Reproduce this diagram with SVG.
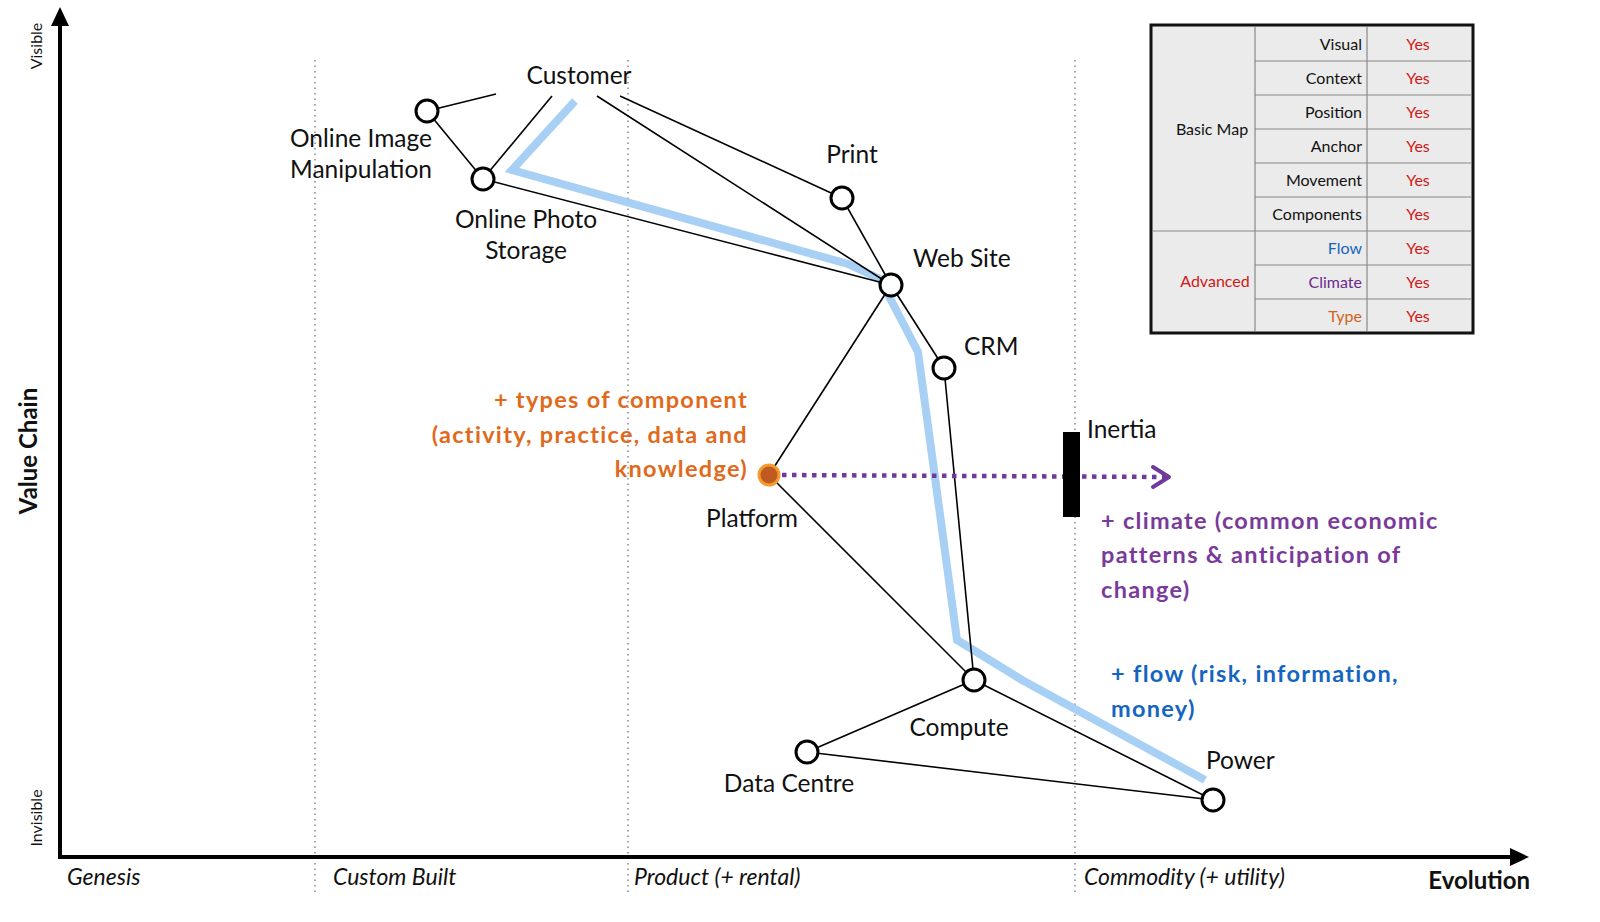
<svg xmlns="http://www.w3.org/2000/svg" width="1600" height="922" viewBox="0 0 1600 922">
<style>
.axis{stroke:#000;stroke-width:4;fill:none}
.grid{stroke:#888;stroke-width:1.5;stroke-dasharray:1.5 4;fill:none}
.ax{font-family:"Lato","Open Sans",sans-serif;font-size:23px;font-style:italic;fill:#111}
.lbl{font-family:"Lato","Open Sans",sans-serif;font-size:24.5px;fill:#111}
.small{font-family:"Lato","Open Sans",sans-serif;font-size:16px;fill:#111}
.link{stroke:#000;stroke-width:1.6;fill:none}
.node{fill:#fff;stroke:#000;stroke-width:3}
.flow{stroke:#a8d0f5;stroke-width:8;fill:none;stroke-linejoin:miter}
.ann{font-family:"Lato","Open Sans",sans-serif;font-size:23.5px;font-weight:bold;letter-spacing:1.3px}
.tb{font-family:"Lato","Open Sans",sans-serif;font-size:16px}
.yes{fill:#d01818;text-anchor:middle}
.tl{stroke:#888;stroke-width:1.2}
</style>
<rect width="1600" height="922" fill="#fff"/>

<g id="grid">
<line class="grid" x1="315" y1="60" x2="315" y2="892"/>
<line class="grid" x1="628" y1="60" x2="628" y2="892"/>
<line class="grid" x1="1075" y1="60" x2="1075" y2="892"/>
</g>

<g id="axes">
<line class="axis" x1="60" y1="859" x2="60" y2="24"/>
<path d="M51,26 L60,7 L69,26 z" fill="#000"/>
<line class="axis" x1="58" y1="857" x2="1512" y2="857"/>
<path d="M1510,848 L1529,857 L1510,866 z" fill="#000"/>
<text class="small" transform="translate(42,46) rotate(-90)" text-anchor="middle">Visible</text>
<text class="small" transform="translate(42,818) rotate(-90)" text-anchor="middle">Invisible</text>
<text transform="translate(37,451) rotate(-90)" text-anchor="middle" style="font-family:'Lato','Open Sans',sans-serif;font-size:24px;font-weight:bold;fill:#111">Value Chain</text>
<text class="ax" x="67" y="885">Genesis</text>
<text class="ax" x="333" y="885">Custom Built</text>
<text class="ax" x="634" y="885">Product (+ rental)</text>
<text class="ax" x="1084" y="885">Commodity (+ utility)</text>
<text x="1530" y="889" text-anchor="end" style="font-family:'Lato','Open Sans',sans-serif;font-size:24px;font-weight:bold;fill:#111">Evolution</text>
</g>

<g id="flow">
<polyline class="flow" points="575,101 512,170 848,264 880,279 918,352 957,640 1022,680 1205,780"/>
</g>

<g id="connectors">
<line class="link" x1="427" y1="111" x2="496" y2="94"/>
<line class="link" x1="483" y1="179" x2="552" y2="96"/>
<line class="link" x1="597" y1="96" x2="891" y2="285"/>
<line class="link" x1="620" y1="96" x2="842" y2="198"/>
<line class="link" x1="427" y1="111" x2="483" y2="179"/>
<line class="link" x1="483" y1="179" x2="891" y2="285"/>
<line class="link" x1="842" y1="198" x2="891" y2="285"/>
<line class="link" x1="891" y1="285" x2="944" y2="368"/>
<line class="link" x1="891" y1="285" x2="769" y2="475"/>
<line class="link" x1="944" y1="368" x2="974" y2="680"/>
<line class="link" x1="769" y1="475" x2="974" y2="680"/>
<line class="link" x1="974" y1="680" x2="807" y2="752"/>
<line class="link" x1="974" y1="680" x2="1213" y2="800"/>
<line class="link" x1="807" y1="752" x2="1213" y2="800"/>
</g>

<g id="climate">
<line x1="782" y1="475" x2="1166" y2="477" stroke="#6f3a9a" stroke-width="4.5" stroke-dasharray="4.5 5.5"/>
<polyline points="1153,467 1169,477 1153,487" fill="none" stroke="#6f3a9a" stroke-width="4" stroke-linecap="round" stroke-linejoin="round"/>
</g>

<g id="inertia">
<rect x="1063" y="432" width="17" height="85" fill="#000"/>
<text class="lbl" x="1087" y="438">Inertia</text>
</g>

<g id="customer"><text class="lbl" x="579" y="84" text-anchor="middle">Customer</text></g>
<g id="online-image">
<circle class="node" cx="427" cy="111" r="11"/>
<text class="lbl" x="361" y="147" text-anchor="middle">Online Image</text>
<text class="lbl" x="361" y="178" text-anchor="middle">Manipulation</text>
</g>
<g id="online-photo">
<circle class="node" cx="483" cy="179" r="11"/>
<text class="lbl" x="526" y="228" text-anchor="middle">Online Photo</text>
<text class="lbl" x="526" y="259" text-anchor="middle">Storage</text>
</g>
<g id="print">
<circle class="node" cx="842" cy="198" r="11"/>
<text class="lbl" x="852" y="163" text-anchor="middle">Print</text>
</g>
<g id="website">
<circle class="node" cx="891" cy="285" r="11"/>
<text class="lbl" x="913" y="267">Web Site</text>
</g>
<g id="crm">
<circle class="node" cx="944" cy="368" r="11"/>
<text class="lbl" x="964" y="355">CRM</text>
</g>
<g id="platform">
<circle cx="769" cy="475" r="10" fill="#bf5a20" stroke="#f39a30" stroke-width="3"/>
<text class="lbl" x="752" y="527" text-anchor="middle">Platform</text>
</g>
<g id="compute">
<circle class="node" cx="974" cy="680" r="11"/>
<text class="lbl" x="959" y="736" text-anchor="middle">Compute</text>
</g>
<g id="datacentre">
<circle class="node" cx="807" cy="752" r="11"/>
<text class="lbl" x="789" y="792" text-anchor="middle">Data Centre</text>
</g>
<g id="power">
<circle class="node" cx="1213" cy="800" r="11"/>
<text class="lbl" x="1206" y="769">Power</text>
</g>

<g id="annotations">
<text class="ann" style="fill:#e06a1b" text-anchor="end"><tspan x="748" y="408">+ types of component</tspan><tspan x="748" y="443">(activity, practice, data and</tspan><tspan x="748" y="477">knowledge)</tspan></text>
<text class="ann" style="fill:#7a3a9a"><tspan x="1101" y="529">+ climate (common economic</tspan><tspan x="1101" y="563">patterns &amp; anticipation of</tspan><tspan x="1101" y="598">change)</tspan></text>
<text class="ann" style="fill:#1565c0"><tspan x="1111" y="682">+ flow (risk, information,</tspan><tspan x="1111" y="717">money)</tspan></text>
</g>

<g id="table">
<rect x="1151" y="25" width="322" height="308" fill="#ebebeb" stroke="none"/>
<line class="tl" x1="1255" y1="27" x2="1255" y2="331"/>
<line class="tl" x1="1367" y1="27" x2="1367" y2="331"/>
<line class="tl" x1="1255" y1="61" x2="1471" y2="61"/>
<line class="tl" x1="1255" y1="95" x2="1471" y2="95"/>
<line class="tl" x1="1255" y1="129" x2="1471" y2="129"/>
<line class="tl" x1="1255" y1="163" x2="1471" y2="163"/>
<line class="tl" x1="1255" y1="197" x2="1471" y2="197"/>
<line class="tl" x1="1153" y1="231" x2="1471" y2="231"/>
<line class="tl" x1="1255" y1="265" x2="1471" y2="265"/>
<line class="tl" x1="1255" y1="299" x2="1471" y2="299"/>
<rect x="1151" y="25" width="322" height="308" fill="none" stroke="#111" stroke-width="3"/>
<g class="tb" text-anchor="end" fill="#111">
<text x="1362" y="50">Visual</text>
<text x="1362" y="84">Context</text>
<text x="1362" y="118">Position</text>
<text x="1362" y="152">Anchor</text>
<text x="1362" y="186">Movement</text>
<text x="1362" y="220">Components</text>
<text x="1362" y="254" fill="#1565c0">Flow</text>
<text x="1362" y="288" fill="#6a2a90">Climate</text>
<text x="1362" y="322" fill="#d0621a">Type</text>
</g>
<g class="tb" text-anchor="middle">
<text x="1212" y="135" fill="#111">Basic Map</text>
<text x="1215" y="287" fill="#d01818">Advanced</text>
</g>
<g class="tb">
<text class="yes" x="1418" y="50">Yes</text>
<text class="yes" x="1418" y="84">Yes</text>
<text class="yes" x="1418" y="118">Yes</text>
<text class="yes" x="1418" y="152">Yes</text>
<text class="yes" x="1418" y="186">Yes</text>
<text class="yes" x="1418" y="220">Yes</text>
<text class="yes" x="1418" y="254">Yes</text>
<text class="yes" x="1418" y="288">Yes</text>
<text class="yes" x="1418" y="322">Yes</text>
</g>
</g>
</svg>
